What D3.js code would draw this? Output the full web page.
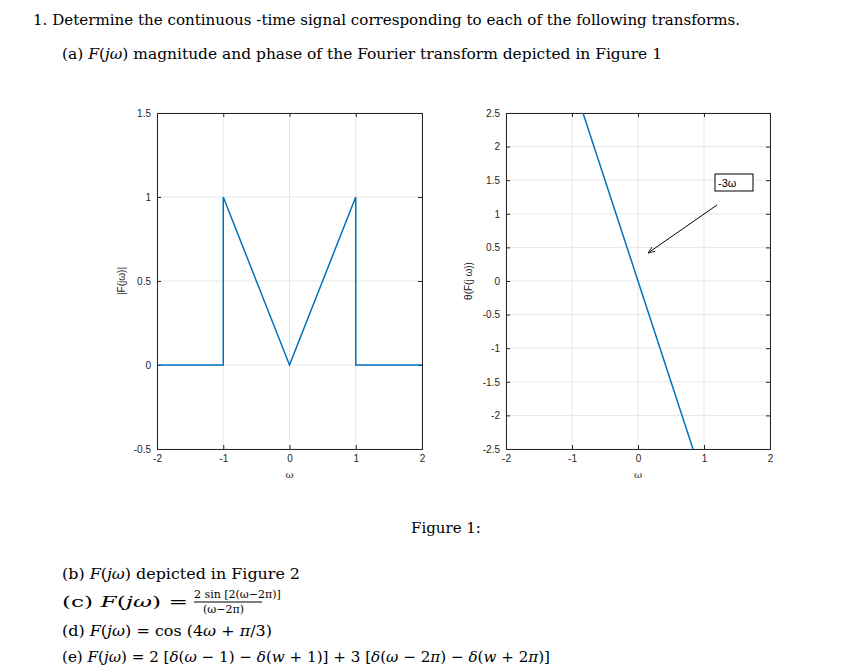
<!DOCTYPE html>
<html><head><meta charset="utf-8">
<script src="https://cdn.jsdelivr.net/npm/d3@7"></script>
<style>body{margin:0;background:#fff}text{font-family:"DejaVu Serif","Liberation Serif",serif}</style>
</head><body><div id="chart"></div>
<script>
// magnitude |F(jw)|
const magW = [-2, -1, -1, 0, 1, 1, 2];
const magV = [0, 0, 1, 0, 1, 0, 0];
// phase = -3w, drawn across the visible window
const phaseW = [-0.8333, 0.8333];
const phaseV = phaseW.map(w => -3 * w);
const xTicks = [-2, -1, 0, 1, 2];
const magTicks = [-0.5, 0, 0.5, 1, 1.5];
const phaseTicks = [-2.5, -2, -1.5, -1, -0.5, 0, 0.5, 1, 1.5, 2, 2.5];

const svg = d3.select('#chart').append('svg').attr('width', 843).attr('height', 668);
const blue = '#0072bd';
const fmt = d => String(d);

svg.append('text').attr('x', 33).attr('y', 25).attr('font-size', 15)
  .attr('textLength', 707).attr('lengthAdjust', 'spacingAndGlyphs')
  .text('1. Determine the continuous -time signal corresponding to each of the following transforms.');
const a = svg.append('text').attr('x', 62).attr('y', 59).attr('font-size', 15)
  .attr('textLength', 600).attr('lengthAdjust', 'spacingAndGlyphs');
a.append('tspan').text('(a) ');
a.append('tspan').attr('font-style', 'italic').text('F');
a.append('tspan').text('(');
a.append('tspan').attr('font-style', 'italic').text('jω');
a.append('tspan').text(') magnitude and phase of the Fourier transform depicted in Figure 1');

function panel(x0, x1, yDom, ticks, ylab, ylx) {
  const x = d3.scaleLinear().domain([-2, 2]).range([x0, x1]);
  const y = d3.scaleLinear().domain(yDom).range([449, 113]);
  const g = svg.append('g').attr('font-size', 9);
  g.selectAll('.gx').data(xTicks).join('line').attr('x1', d => x(d)).attr('x2', d => x(d))
    .attr('y1', 113).attr('y2', 449).attr('stroke', '#e6e6e6');
  g.selectAll('.gy').data(ticks).join('line').attr('y1', d => y(d)).attr('y2', d => y(d))
    .attr('x1', x0).attr('x2', x1).attr('stroke', '#e6e6e6');
  g.append('g').attr('transform', 'translate(0,449)')
    .call(d3.axisBottom(x).tickValues(xTicks).tickSize(-4).tickPadding(6).tickFormat(fmt));
  g.append('g').attr('transform', `translate(${x0},0)`)
    .call(d3.axisLeft(y).tickValues(ticks).tickSize(-4).tickPadding(6).tickFormat(fmt));
  g.append('g').attr('transform', 'translate(0,113)')
    .call(d3.axisTop(x).tickValues(xTicks).tickSize(-4).tickFormat(''));
  g.append('g').attr('transform', `translate(${x1},0)`)
    .call(d3.axisRight(y).tickValues(ticks).tickSize(-4).tickFormat(''));
  g.selectAll('.domain').attr('stroke', '#262626');
  g.selectAll('.tick line').attr('stroke', '#262626');
  g.selectAll('.tick text').attr('fill', '#262626').style('font-family', 'Liberation Sans, Arial, sans-serif');
  g.append('text').attr('x', (x0 + x1) / 2).attr('y', 478).attr('text-anchor', 'middle')
    .attr('font-size', 10).attr('fill', '#262626').text('ω');
  g.append('text').attr('transform', `translate(${ylx},281) rotate(-90)`).attr('text-anchor', 'middle')
    .attr('font-size', 10).attr('fill', '#262626').style('font-family', 'Liberation Sans, Arial, sans-serif').text(ylab);
  return { x, y };
}

const p1 = panel(157, 422, [-0.5, 1.5], magTicks, '|F(jω)|', 125);
svg.append('path').datum(d3.zip(magW, magV)).attr('fill', 'none').attr('stroke', blue).attr('stroke-width', 1.5)
  .attr('d', d3.line().x(d => p1.x(d[0])).y(d => p1.y(d[1])));

const p2 = panel(506, 770, [-2.5, 2.5], phaseTicks, 'θ(F(j ω))', 472);
svg.append('path').datum(d3.zip(phaseW, phaseV)).attr('fill', 'none').attr('stroke', blue).attr('stroke-width', 1.5)
  .attr('d', d3.line().x(d => p2.x(d[0])).y(d => p2.y(d[1])));

// annotation
svg.append('defs').append('marker').attr('id', 'ah').attr('viewBox', '0 0 10 10').attr('refX', 10).attr('refY', 5)
  .attr('markerWidth', 7).attr('markerHeight', 7).attr('orient', 'auto')
  .append('path').attr('d', 'M0,1L10,5L0,9').attr('fill', 'none').attr('stroke', '#000');
svg.append('line').attr('x1', 717).attr('y1', 205).attr('x2', 648).attr('y2', 253)
  .attr('stroke', '#000').attr('marker-end', 'url(#ah)');
svg.append('rect').attr('x', 715).attr('y', 174).attr('width', 38).attr('height', 17)
  .attr('fill', '#fff').attr('stroke', '#000');
svg.append('text').attr('x', 718).attr('y', 187).attr('font-size', 11)
  .style('font-family', 'Liberation Sans, Arial, sans-serif').text('-3ω');

svg.append('text').attr('x', 411).attr('y', 533).attr('font-size', 15).text('Figure 1:');

function eq(y, parts, len) {
  const t = svg.append('text').attr('x', 62).attr('y', y).attr('font-size', 15);
  if (len) t.attr('textLength', len).attr('lengthAdjust', 'spacingAndGlyphs');
  parts.forEach(p => t.append('tspan').attr('font-style', p[1] ? 'italic' : null).text(p[0]));
  return t;
}
eq(579, [['(b) '], ['F', 1], ['('], ['jω', 1], [') depicted in Figure 2']], 238);
eq(607, [['(c) '], ['F', 1], ['('], ['jω', 1], [') =']], 126);
svg.append('text').attr('x', 194).attr('y', 598).attr('font-size', 11).text('2 sin [2(ω−2π)]');
svg.append('line').attr('x1', 194).attr('x2', 262).attr('y1', 602).attr('y2', 602).attr('stroke', '#000');
svg.append('text').attr('x', 203).attr('y', 613).attr('font-size', 11).text('(ω−2π)');
eq(636, [['(d) '], ['F', 1], ['('], ['jω', 1], [') = cos (4'], ['ω', 1], [' + '], ['π', 1], ['/3)']], 210);
eq(662, [['(e) '], ['F', 1], ['('], ['jω', 1], [') = 2 ['], ['δ', 1], ['('], ['ω', 1], [' − 1) − '], ['δ', 1], ['('], ['w', 1],
  [' + 1)] + 3 ['], ['δ', 1], ['('], ['ω', 1], [' − 2'], ['π', 1], [') − '], ['δ', 1], ['('], ['w', 1], [' + 2'], ['π', 1], [')]']], 488);
</script></body></html>
